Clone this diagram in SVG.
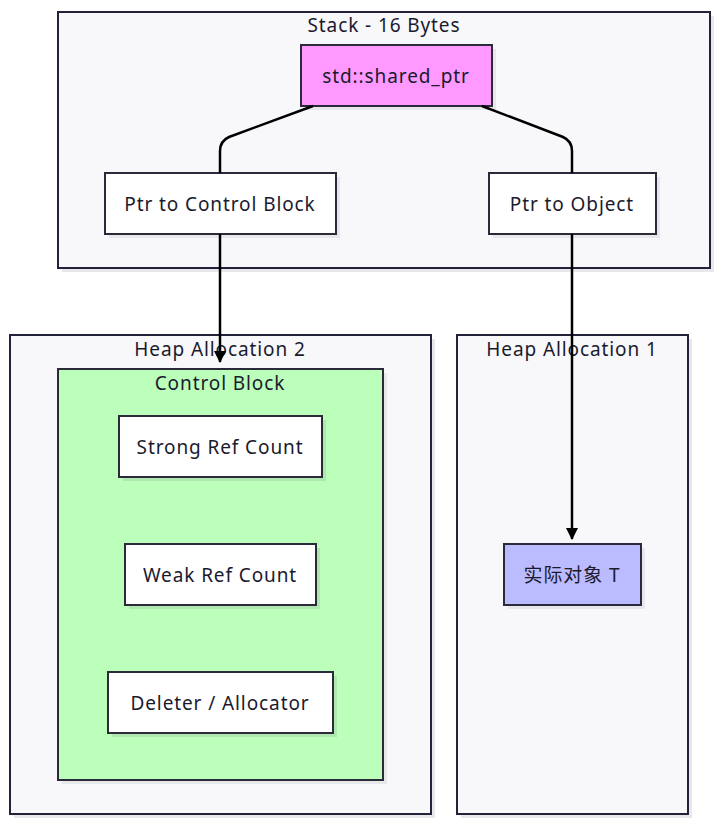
<svg xmlns="http://www.w3.org/2000/svg" width="720" height="826" viewBox="0 0 720 826">
<defs>
<style>
.cl{fill:#f8f8fa;stroke:#22223a;stroke-width:2}
.sh{fill:#e8e8ec}
.nd{stroke:#2a2a3a;stroke-width:2}
.t{font-family:"Noto Sans","Noto Sans CJK SC",sans-serif;font-size:19px;letter-spacing:0.9px;fill:#1a1a2e;text-anchor:middle;dominant-baseline:central}
.ed{fill:none;stroke:#000;stroke-width:2.5}
</style>
<marker id="ah" viewBox="0 0 12 12" refX="11" refY="6" markerWidth="12" markerHeight="12" markerUnits="userSpaceOnUse" orient="auto">
<path d="M0,0 L12,6 L0,12 z" fill="#000"/>
</marker>
</defs>
<rect width="720" height="826" fill="#fff"/>
<g id="stack">
<rect class="sh" x="62" y="16" width="652" height="256"/>
<rect class="cl" x="58" y="12" width="652" height="256"/>
<text class="t" x="384" y="25">Stack - 16 Bytes</text>
</g>
<g id="heap2">
<rect class="sh" x="14" y="339" width="421" height="479"/>
<rect class="cl" x="10" y="335" width="421" height="479"/>
<text class="t" x="220" y="349">Heap Allocation 2</text>
</g>
<g id="heap1">
<rect class="sh" x="461" y="339" width="231" height="479"/>
<rect class="cl" x="457" y="335" width="231" height="479"/>
<text class="t" x="572" y="349">Heap Allocation 1</text>
</g>
<g id="controlblock">
<rect class="sh" x="62" y="373" width="325" height="411"/>
<rect x="58" y="369" width="325" height="411" fill="#bbffbb" stroke="#2a2a3a" stroke-width="2"/>
<text class="t" x="220" y="383">Control Block</text>
</g>
<g id="shared_ptr">
<rect class="sh" x="305" y="49" width="191" height="61"/>
<rect class="nd" x="301" y="45" width="191" height="61" fill="#ff99ff"/>
<text class="t" x="396" y="76">std::shared_ptr</text>
</g>
<g id="ptr_cb">
<rect class="sh" x="109" y="177" width="231" height="61"/>
<rect class="nd" x="105" y="173" width="231" height="61" fill="#fff"/>
<text class="t" x="220" y="204">Ptr to Control Block</text>
</g>
<g id="ptr_obj">
<rect class="sh" x="493" y="177" width="167" height="61"/>
<rect class="nd" x="489" y="173" width="167" height="61" fill="#fff"/>
<text class="t" x="572" y="204">Ptr to Object</text>
</g>
<g id="strong">
<rect x="123" y="420" width="203" height="61" fill="#aee8ae"/>
<rect class="nd" x="119" y="416" width="203" height="61" fill="#fff"/>
<text class="t" x="220" y="447">Strong Ref Count</text>
</g>
<g id="weak">
<rect x="129" y="548" width="191" height="61" fill="#aee8ae"/>
<rect class="nd" x="125" y="544" width="191" height="61" fill="#fff"/>
<text class="t" x="220" y="575">Weak Ref Count</text>
</g>
<g id="deleter">
<rect x="112" y="676" width="225" height="61" fill="#aee8ae"/>
<rect class="nd" x="108" y="672" width="225" height="61" fill="#fff"/>
<text class="t" x="220" y="703">Deleter / Allocator</text>
</g>
<g id="object">
<rect class="sh" x="508" y="548" width="137" height="61"/>
<rect class="nd" x="504" y="544" width="137" height="61" fill="#bbbbff"/>
<text class="t" x="572" y="575">实际对象 T</text>
</g>
<g id="edges">
<path class="ed" d="M313,106 L229,137 Q220,141 220,151 L220,173"/>
<path class="ed" d="M482,106 L563,137 Q572,141 572,151 L572,173"/>
<path class="ed" d="M220,234 L220,362" marker-end="url(#ah)"/>
<path class="ed" d="M572,234 L572,539" marker-end="url(#ah)"/>
</g>
</svg>
